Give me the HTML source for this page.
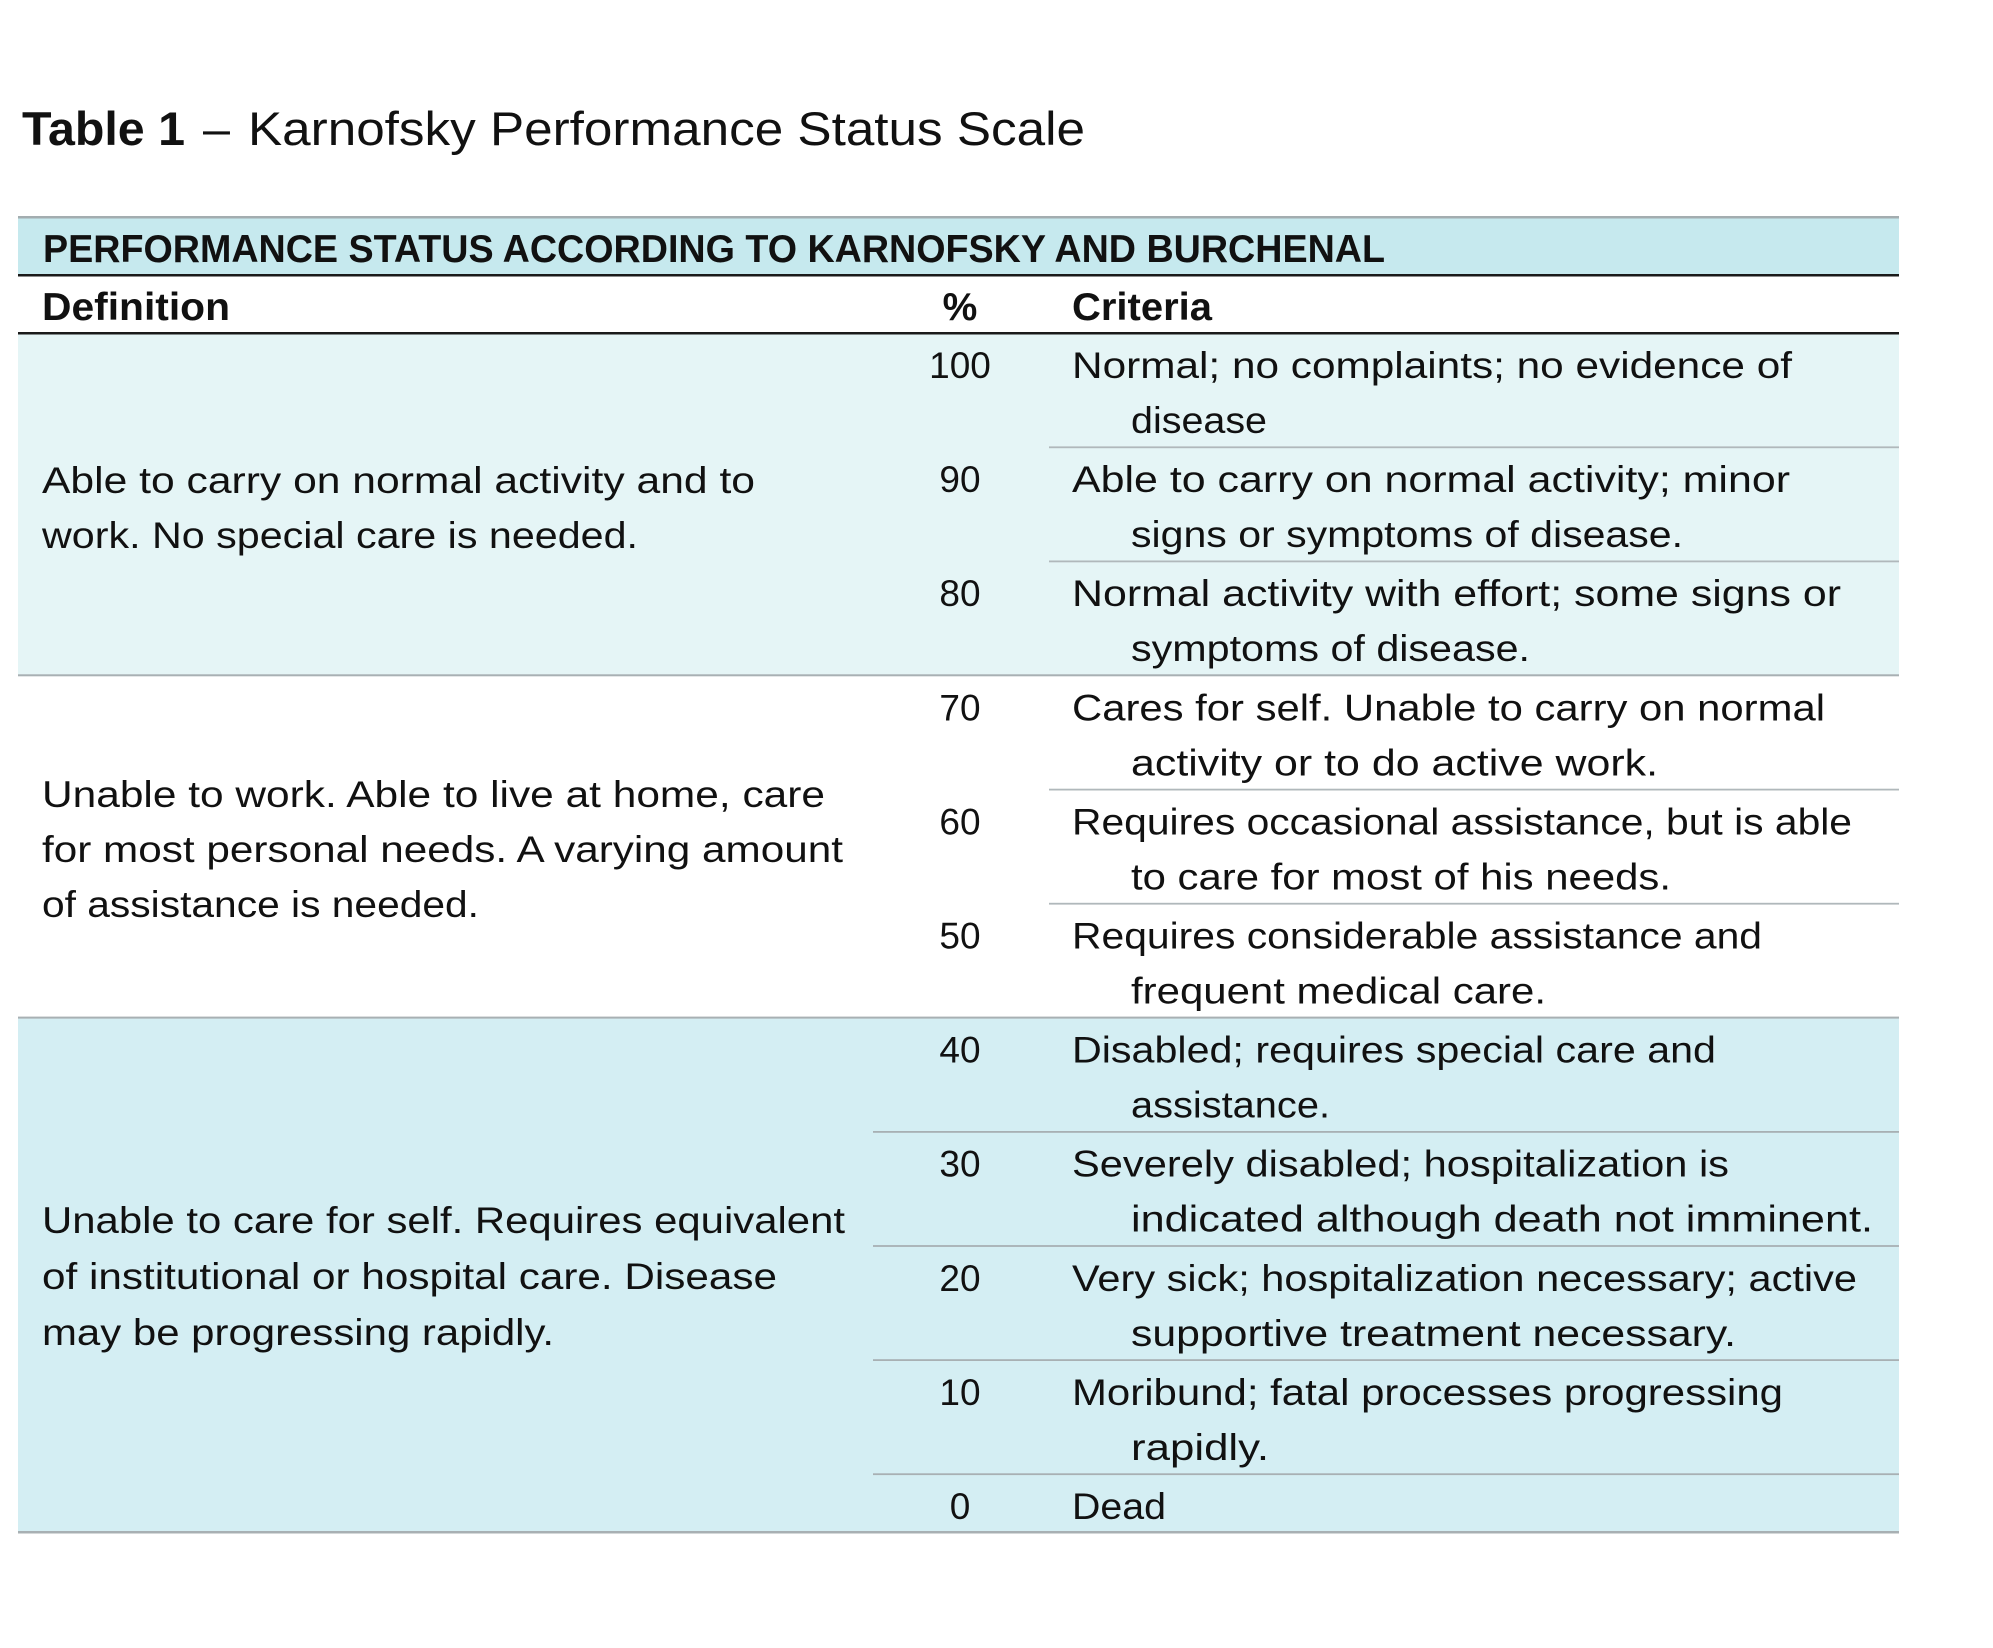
<!DOCTYPE html>
<html>
<head>
<meta charset="utf-8">
<style>
html,body{margin:0;padding:0;background:#fff;}
svg{display:block;}
text{font-family:"Liberation Sans",sans-serif;fill:#111;}
.b{font-weight:bold;}
.t{font-size:37px;}
.h{font-size:39px;font-weight:bold;}
</style>
</head>
<body>
<svg width="1993" height="1648" viewBox="0 0 1993 1648" xmlns="http://www.w3.org/2000/svg">
<rect x="0" y="0" width="1993" height="1648" fill="#ffffff"/>

<!-- Title -->
<text x="22" y="145" style="font-size:47px;font-weight:bold" textLength="163" lengthAdjust="spacingAndGlyphs">Table 1</text>
<text x="203" y="145" style="font-size:47px" textLength="27" lengthAdjust="spacingAndGlyphs">–</text>
<text x="248" y="145" style="font-size:47px" textLength="837" lengthAdjust="spacingAndGlyphs">Karnofsky Performance Status Scale</text>

<!-- Backgrounds -->
<rect x="18" y="217" width="1881" height="58" fill="#c6e9ee"/>
<rect x="18" y="333" width="1881" height="342.3" fill="#e5f5f6"/>
<rect x="18" y="1017.6" width="1881" height="514.4" fill="#d4eef3"/>

<!-- Header band -->
<text class="h" x="43" y="262" textLength="1342" lengthAdjust="spacingAndGlyphs">PERFORMANCE STATUS ACCORDING TO KARNOFSKY AND BURCHENAL</text>

<!-- Column headers -->
<text class="h" x="42" y="320" textLength="188" lengthAdjust="spacingAndGlyphs">Definition</text>
<text class="h" x="960" y="320" text-anchor="middle">%</text>
<text class="h" x="1072" y="320" textLength="140" lengthAdjust="spacingAndGlyphs">Criteria</text>

<!-- Lines -->
<rect x="18" y="216" width="1881" height="2.5" fill="#a3adb0"/>
<rect x="18" y="274" width="1881" height="2.5" fill="#1a1a1a"/>
<rect x="18" y="332" width="1881" height="2.5" fill="#1a1a1a"/>
<rect x="18" y="674.3" width="1881" height="2" fill="#a8b0b3"/>
<rect x="18" y="1016.6" width="1881" height="2" fill="#a8b0b3"/>
<rect x="18" y="1531" width="1881" height="2.5" fill="#a8b0b3"/>
<!-- row separators group 1/2 -->
<rect x="1049" y="446.4" width="850" height="1.8" fill="#b0b8bb"/>
<rect x="1049" y="560.5" width="850" height="1.8" fill="#b0b8bb"/>
<rect x="1049" y="788.7" width="850" height="1.8" fill="#b0b8bb"/>
<rect x="1049" y="902.8" width="850" height="1.8" fill="#b0b8bb"/>
<!-- row separators group 3 -->
<rect x="873" y="1131" width="1026" height="1.8" fill="#a8b0b3"/>
<rect x="873" y="1245.1" width="1026" height="1.8" fill="#a8b0b3"/>
<rect x="873" y="1359.2" width="1026" height="1.8" fill="#a8b0b3"/>
<rect x="873" y="1473.3" width="1026" height="1.8" fill="#a8b0b3"/>

<!-- Definitions -->
<text class="t" x="42" y="493" textLength="713" lengthAdjust="spacingAndGlyphs">Able to carry on normal activity and to</text>
<text class="t" x="42" y="548" textLength="596" lengthAdjust="spacingAndGlyphs">work. No special care is needed.</text>

<text class="t" x="42" y="807" textLength="783" lengthAdjust="spacingAndGlyphs">Unable to work. Able to live at home, care</text>
<text class="t" x="42" y="862" textLength="801" lengthAdjust="spacingAndGlyphs">for most personal needs. A varying amount</text>
<text class="t" x="42" y="917" textLength="437" lengthAdjust="spacingAndGlyphs">of assistance is needed.</text>

<text class="t" x="42" y="1233" textLength="803" lengthAdjust="spacingAndGlyphs">Unable to care for self. Requires equivalent</text>
<text class="t" x="42" y="1289" textLength="735" lengthAdjust="spacingAndGlyphs">of institutional or hospital care. Disease</text>
<text class="t" x="42" y="1345" textLength="512" lengthAdjust="spacingAndGlyphs">may be progressing rapidly.</text>

<!-- Percent column -->
<g class="t" text-anchor="middle">
<text class="t" x="960" y="378">100</text>
<text class="t" x="960" y="492.1">90</text>
<text class="t" x="960" y="606.2">80</text>
<text class="t" x="960" y="720.3">70</text>
<text class="t" x="960" y="834.4">60</text>
<text class="t" x="960" y="948.5">50</text>
<text class="t" x="960" y="1062.6">40</text>
<text class="t" x="960" y="1176.7">30</text>
<text class="t" x="960" y="1290.8">20</text>
<text class="t" x="960" y="1404.9">10</text>
<text class="t" x="960" y="1519">0</text>
</g>

<!-- Criteria -->
<text class="t" x="1072" y="378" textLength="720" lengthAdjust="spacingAndGlyphs">Normal; no complaints; no evidence of</text>
<text class="t" x="1131" y="433" textLength="136" lengthAdjust="spacingAndGlyphs">disease</text>

<text class="t" x="1072" y="492.1" textLength="718" lengthAdjust="spacingAndGlyphs">Able to carry on normal activity; minor</text>
<text class="t" x="1131" y="547.1" textLength="552" lengthAdjust="spacingAndGlyphs">signs or symptoms of disease.</text>

<text class="t" x="1072" y="606.2" textLength="769" lengthAdjust="spacingAndGlyphs">Normal activity with effort; some signs or</text>
<text class="t" x="1131" y="661.2" textLength="399" lengthAdjust="spacingAndGlyphs">symptoms of disease.</text>

<text class="t" x="1072" y="720.3" textLength="753" lengthAdjust="spacingAndGlyphs">Cares for self. Unable to carry on normal</text>
<text class="t" x="1131" y="775.3" textLength="527" lengthAdjust="spacingAndGlyphs">activity or to do active work.</text>

<text class="t" x="1072" y="834.4" textLength="780" lengthAdjust="spacingAndGlyphs">Requires occasional assistance, but is able</text>
<text class="t" x="1131" y="889.4" textLength="540" lengthAdjust="spacingAndGlyphs">to care for most of his needs.</text>

<text class="t" x="1072" y="948.5" textLength="690" lengthAdjust="spacingAndGlyphs">Requires considerable assistance and</text>
<text class="t" x="1131" y="1003.5" textLength="415" lengthAdjust="spacingAndGlyphs">frequent medical care.</text>

<text class="t" x="1072" y="1062.6" textLength="644" lengthAdjust="spacingAndGlyphs">Disabled; requires special care and</text>
<text class="t" x="1131" y="1117.6" textLength="199" lengthAdjust="spacingAndGlyphs">assistance.</text>

<text class="t" x="1072" y="1176.7" textLength="657" lengthAdjust="spacingAndGlyphs">Severely disabled; hospitalization is</text>
<text class="t" x="1131" y="1231.7" textLength="742" lengthAdjust="spacingAndGlyphs">indicated although death not imminent.</text>

<text class="t" x="1072" y="1290.8" textLength="785" lengthAdjust="spacingAndGlyphs">Very sick; hospitalization necessary; active</text>
<text class="t" x="1131" y="1345.8" textLength="605" lengthAdjust="spacingAndGlyphs">supportive treatment necessary.</text>

<text class="t" x="1072" y="1404.9" textLength="711" lengthAdjust="spacingAndGlyphs">Moribund; fatal processes progressing</text>
<text class="t" x="1131" y="1459.9" textLength="138" lengthAdjust="spacingAndGlyphs">rapidly.</text>

<text class="t" x="1072" y="1519" textLength="94" lengthAdjust="spacingAndGlyphs">Dead</text>
</svg>
</body>
</html>
